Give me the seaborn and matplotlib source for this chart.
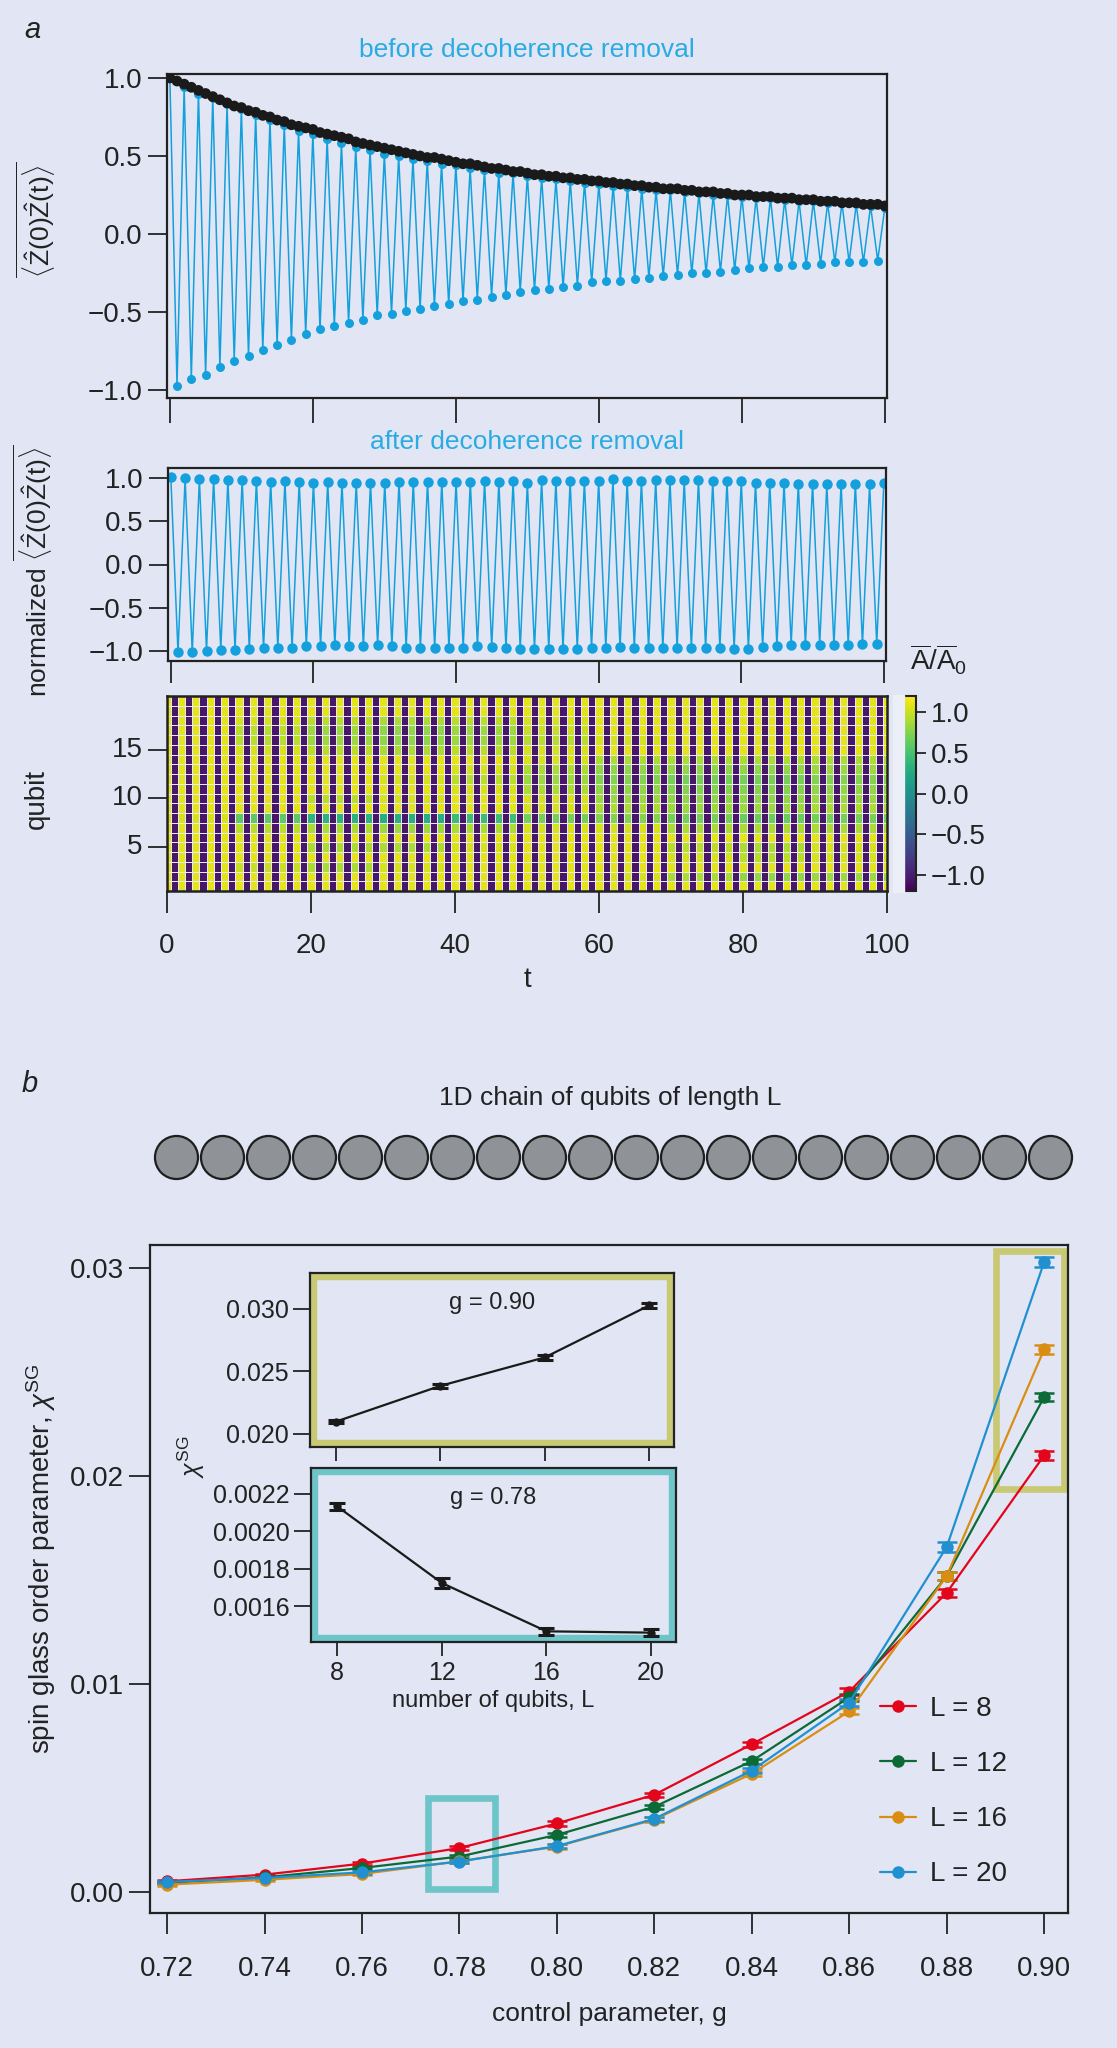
import numpy as np
import pandas as pd
import matplotlib
matplotlib.use("Agg")
import matplotlib.pyplot as plt
from matplotlib.patches import Rectangle
import seaborn as sns

# ---- panel a: autocorrelation data ------------------------------------------

t_steps = list(range(101))

# black upper envelope |<Z(0)Z(t)>| at every step
z_envelope = [
    1.00, 0.98, 0.96, 0.94, 0.92, 0.90, 0.88, 0.86, 0.84, 0.82,
    0.81, 0.79, 0.78, 0.76, 0.75, 0.73, 0.72, 0.70, 0.69, 0.68,
    0.67, 0.65, 0.64, 0.63, 0.62, 0.61, 0.59, 0.58, 0.57, 0.56,
    0.55, 0.54, 0.53, 0.52, 0.51, 0.50, 0.49, 0.49, 0.48, 0.47,
    0.46, 0.45, 0.45, 0.44, 0.43, 0.42, 0.42, 0.41, 0.40, 0.40,
    0.39, 0.38, 0.38, 0.37, 0.37, 0.36, 0.36, 0.35, 0.35, 0.34,
    0.34, 0.33, 0.33, 0.32, 0.32, 0.31, 0.31, 0.30, 0.30, 0.29,
    0.29, 0.29, 0.28, 0.28, 0.27, 0.27, 0.27, 0.26, 0.26, 0.25,
    0.25, 0.25, 0.24, 0.24, 0.24, 0.23, 0.23, 0.23, 0.22, 0.22,
    0.22, 0.21, 0.21, 0.21, 0.20, 0.20, 0.20, 0.19, 0.19, 0.19,
    0.18,
]

# blue raw signal, before decoherence removal
z_raw = [
    1.00, -0.97, 0.94, -0.93, 0.90, -0.90, 0.87, -0.85, 0.83, -0.81,
    0.80, -0.78, 0.76, -0.74, 0.73, -0.71, 0.70, -0.68, 0.66, -0.64,
    0.64, -0.61, 0.61, -0.59, 0.58, -0.57, 0.56, -0.55, 0.54, -0.52,
    0.51, -0.51, 0.50, -0.49, 0.48, -0.48, 0.47, -0.46, 0.45, -0.45,
    0.44, -0.43, 0.42, -0.42, 0.41, -0.40, 0.39, -0.39, 0.39, -0.37,
    0.37, -0.36, 0.36, -0.35, 0.35, -0.34, 0.34, -0.33, 0.33, -0.31,
    0.32, -0.30, 0.31, -0.30, 0.30, -0.29, 0.29, -0.28, 0.28, -0.27,
    0.28, -0.26, 0.27, -0.25, 0.26, -0.25, 0.25, -0.24, 0.25, -0.23,
    0.24, -0.22, 0.23, -0.21, 0.23, -0.21, 0.22, -0.20, 0.21, -0.20,
    0.21, -0.19, 0.20, -0.18, 0.20, -0.18, 0.19, -0.18, 0.18, -0.17,
    0.17,
]

# blue normalized signal, after decoherence removal
z_norm = [
    1.01, -1.02, 1.00, -1.02, 0.99, -1.00, 0.99, -0.99, 0.98, -0.99,
    0.98, -0.98, 0.97, -0.97, 0.96, -0.97, 0.97, -0.97, 0.96, -0.95,
    0.95, -0.95, 0.96, -0.94, 0.95, -0.95, 0.95, -0.95, 0.95, -0.94,
    0.95, -0.95, 0.96, -0.97, 0.96, -0.97, 0.96, -0.97, 0.96, -0.97,
    0.96, -0.97, 0.96, -0.95, 0.97, -0.96, 0.96, -0.97, 0.97, -0.98,
    0.95, -0.98, 0.98, -0.98, 0.97, -0.98, 0.97, -0.98, 0.97, -0.97,
    0.97, -0.97, 0.99, -0.96, 0.97, -0.97, 0.97, -0.97, 0.98, -0.97,
    0.98, -0.97, 0.98, -0.97, 0.98, -0.97, 0.97, -0.97, 0.97, -0.98,
    0.97, -0.98, 0.95, -0.96, 0.95, -0.95, 0.95, -0.93, 0.94, -0.94,
    0.94, -0.93, 0.93, -0.94, 0.94, -0.93, 0.94, -0.92, 0.93, -0.92,
    0.95,
]

# per-qubit amplitude of the positive half-periods, in blocks of 10 steps
qubits = list(range(1, 21))
site_amp = [
    [1.10, 1.10, 1.10, 1.10, 1.10, 1.10, 1.10, 1.10, 1.10, 1.10],  # q1
    [1.10, 1.10, 1.10, 1.10, 1.10, 1.10, 1.05, 0.90, 0.80, 0.85],  # q2
    [1.10, 1.00, 0.90, 1.05, 1.10, 1.10, 1.10, 1.10, 1.10, 1.10],  # q3
    [1.10, 1.10, 1.10, 1.10, 1.10, 1.10, 1.10, 1.05, 0.95, 1.05],  # q4
    [1.10, 1.10, 0.90, 0.90, 1.05, 1.10, 1.10, 0.95, 0.90, 1.05],  # q5
    [1.10, 1.10, 1.10, 1.10, 1.10, 1.10, 1.10, 1.10, 1.10, 1.10],  # q6
    [1.10, 0.95, 0.90, 0.85, 0.90, 1.05, 1.05, 0.90, 0.90, 0.90],  # q7
    [1.05, 0.60, 0.35, 0.30, 0.45, 0.70, 0.75, 0.70, 0.65, 0.70],  # q8
    [1.10, 1.10, 1.10, 1.10, 1.10, 1.05, 0.90, 0.85, 0.85, 0.90],  # q9
    [1.10, 1.10, 0.95, 1.05, 1.10, 1.05, 0.85, 0.80, 0.80, 0.85],  # q10
    [1.10, 1.10, 1.10, 1.10, 1.05, 0.90, 0.80, 0.75, 0.75, 0.80],  # q11
    [1.10, 1.10, 1.10, 1.05, 0.95, 0.85, 0.75, 0.70, 0.70, 0.75],  # q12
    [1.10, 1.10, 1.10, 1.10, 1.05, 0.90, 0.80, 0.80, 0.80, 0.85],  # q13
    [1.10, 1.10, 1.10, 1.10, 1.10, 1.05, 0.90, 0.90, 0.90, 0.90],  # q14
    [1.10, 1.05, 0.95, 0.90, 0.95, 1.05, 1.10, 1.10, 1.10, 1.10],  # q15
    [1.10, 0.95, 0.85, 0.80, 0.85, 0.95, 1.05, 1.10, 1.10, 1.10],  # q16
    [1.10, 0.95, 0.85, 0.80, 0.85, 1.00, 1.10, 1.10, 1.10, 1.10],  # q17
    [1.10, 1.05, 0.95, 0.90, 0.95, 1.05, 1.10, 1.10, 1.10, 1.10],  # q18
    [1.10, 1.10, 1.10, 1.10, 1.10, 1.10, 1.10, 1.10, 1.10, 1.10],  # q19
    [1.10, 1.10, 1.10, 1.10, 1.10, 1.10, 1.10, 1.10, 1.10, 1.10],  # q20
]
neg_level = -1.05

# ---- panel b: spin glass order parameter ------------------------------------

chain_sites = list(range(20))

g_values = [0.72, 0.74, 0.76, 0.78, 0.80, 0.82, 0.84, 0.86, 0.88, 0.90]
L_values = [8, 12, 16, 20]
chi_L8 = [0.00053, 0.00085, 0.00138, 0.00213, 0.00331, 0.00469, 0.00712, 0.00965, 0.0144, 0.0210]
chi_L12 = [0.00045, 0.00072, 0.00117, 0.00172, 0.00276, 0.00411, 0.00631, 0.00937, 0.0152, 0.0238]
chi_L16 = [0.00037, 0.00060, 0.00088, 0.00149, 0.00220, 0.00350, 0.00570, 0.00870, 0.0152, 0.0261]
chi_L20 = [0.00050, 0.00069, 0.00096, 0.00148, 0.00222, 0.00353, 0.00585, 0.00912, 0.0166, 0.0303]
err_L8 = [0.00005, 0.00005, 0.00006, 0.00008, 0.0001, 0.0001, 0.00012, 0.00015, 0.0002, 0.0002]
err_L12 = [0.00005, 0.00005, 0.00006, 0.00008, 0.0001, 0.0001, 0.00012, 0.00015, 0.0002, 0.0002]
err_L16 = [0.00005, 0.00005, 0.00006, 0.00008, 0.0001, 0.0001, 0.00012, 0.00015, 0.0002, 0.0002]
err_L20 = [0.00005, 0.00005, 0.00006, 0.00008, 0.0001, 0.0001, 0.00012, 0.00015, 0.00022, 0.00025]

inset_L = [8, 12, 16, 20]
chi_g090 = [0.02097, 0.02383, 0.02611, 0.03027]
err_g090 = [0.00012, 0.00017, 0.00017, 0.00017]
chi_g078 = [0.002132, 0.001723, 0.001465, 0.001458]
err_g078 = [0.00002, 0.000025, 0.00002, 0.00002]

# ---- style -------------------------------------------------------------------

BG = "#e2e6f4"
INK = "#222222"
BLUE = "#14a0dc"
TITLE_BLUE = "#2aabe2"
L_COLORS = ["#e3051b", "#0b6a35", "#d98e13", "#2090d0"]
OLIVE = "#c9c974"
TEAL = "#6ec5c9"

sns.set_style("ticks")
plt.rcParams["font.family"] = ["Liberation Sans", "DejaVu Sans"]
plt.rcParams.update({
    "mathtext.fontset": "custom",
    "mathtext.rm": "Liberation Sans",
    "mathtext.it": "Liberation Sans:italic",
    "mathtext.bf": "Liberation Sans:bold",
    "axes.facecolor": BG,
    "figure.facecolor": BG,
    "axes.edgecolor": INK,
    "axes.linewidth": 1.6,
    "text.color": INK,
    "axes.labelcolor": INK,
    "xtick.color": INK,
    "ytick.color": INK,
    "xtick.labelsize": 20,
    "ytick.labelsize": 20,
    "xtick.major.width": 1.3,
    "ytick.major.width": 1.3,
    "xtick.major.size": 15,
    "ytick.major.size": 14,
})

W, H = 1117, 2048


def box(left, top, right, bottom):
    return [left / W, 1 - bottom / H, (right - left) / W, (bottom - top) / H]


fig = plt.figure(figsize=(W / 100, H / 100), dpi=100)

zlabel = r"$\overline{\langle\hat{\mathrm{Z}}\mathrm{(0)}\hat{\mathrm{Z}}\mathrm{(t)}\rangle}$"
ytick_vals = [-1.0, -0.5, 0.0, 0.5, 1.0]
ytick_text = ["\u22121.0", "\u22120.5", "0.0", "0.5", "1.0"]
t_ticks = [0, 20, 40, 60, 80, 100]

# --- a, top: before decoherence removal
ax1 = fig.add_axes(box(167, 74, 887, 398))
sns.lineplot(x=t_steps, y=z_raw, ax=ax1, color=BLUE, linewidth=1.1,
             marker="o", markersize=6.5, markeredgewidth=0)
sns.scatterplot(x=t_steps, y=z_envelope, ax=ax1, color="#1a1a1a", s=60,
                edgecolor="none", zorder=4)
ax1.set_xlim(-0.4, 100.3)
ax1.set_ylim(-1.05, 1.025)
ax1.set_xticks(t_ticks)
ax1.set_xticklabels([])
ax1.set_yticks(ytick_vals)
ax1.set_yticklabels(ytick_text)
ax1.set_ylabel(zlabel, fontsize=19)
ax1.yaxis.set_label_coords(-0.152, 0.55)
ax1.tick_params(axis="x", length=18)

fig.text(24 / W, 1 - 30 / H, "a", fontsize=21, style="italic", va="center")
fig.text(527 / W, 1 - 50 / H, "before decoherence removal", color=TITLE_BLUE,
         fontsize=19, ha="center", va="center")

# --- a, middle: after decoherence removal
ax2 = fig.add_axes(box(168, 468, 886, 661))
sns.lineplot(x=t_steps, y=z_norm, ax=ax2, color=BLUE, linewidth=1.1,
             marker="o", markersize=7.5, markeredgewidth=0)
ax2.set_xlim(-0.4, 100.3)
ax2.set_ylim(-1.12, 1.12)
ax2.set_xticks(t_ticks)
ax2.set_xticklabels([])
ax2.set_yticks(ytick_vals)
ax2.set_yticklabels(ytick_text)
ax2.set_ylabel("normalized " + zlabel, fontsize=19)
ax2.yaxis.set_label_coords(-0.158, 0.47)
ax2.tick_params(axis="x", length=16)

fig.text(527 / W, 1 - 442 / H, "after decoherence removal", color=TITLE_BLUE,
         fontsize=19, ha="center", va="center")

# --- a, bottom: per-qubit heat map
heat = np.empty((len(qubits), len(t_steps)))
for i in range(len(qubits)):
    for t in t_steps:
        block = min(t // 10, 9)
        heat[i, t] = site_amp[i][block] if z_norm[t] > 0 else neg_level
heat_df = pd.DataFrame(heat[::-1], index=qubits[::-1], columns=t_steps)

fig.patches.append(Rectangle((893 / W, 1 - 892 / H), 11 / W, 197 / H,
                             transform=fig.transFigure, color="#eceef8", zorder=0))
ax3 = fig.add_axes(box(167, 696, 887, 891))
cax = fig.add_axes(box(904, 696, 916, 891))
sns.heatmap(heat_df, ax=ax3, cbar_ax=cax, cmap="viridis", vmin=-1.2, vmax=1.2,
            linewidths=0.6, linecolor="#e8e8f0",
            cbar_kws={"ticks": ytick_vals})
ax3.set_xlim(0.5, 100.5)
ax3.set_xticks([t + 0.5 for t in t_ticks])
ax3.set_xticklabels([str(t) for t in t_ticks], rotation=0)
ax3.set_yticks([20 - q + 0.5 for q in (5, 10, 15)])
ax3.set_yticklabels(["5", "10", "15"], rotation=0)
ax3.set_xlabel("t", fontsize=20, labelpad=6)
ax3.set_ylabel("qubit", fontsize=20)
ax3.yaxis.set_label_coords(-0.162, 0.47)
ax3.tick_params(axis="x", length=16, pad=14)
for sp in ax3.spines.values():
    sp.set_visible(True)
    sp.set_linewidth(1.8)
    sp.set_color(INK)
cax.set_yticklabels(ytick_text)
cax.tick_params(length=7, width=1.3, labelsize=20)
cbar = ax3.collections[0].colorbar
cbar.outline.set_visible(True)
cbar.outline.set_edgecolor(INK)
cbar.outline.set_linewidth(1.5)
fig.text(939 / W, 1 - 660 / H, r"$\overline{\mathrm{A}}/\overline{\mathrm{A}}_0$",
         fontsize=20, ha="center", va="center")

# --- b, chain of qubits
fig.text(22 / W, 1 - 1084 / H, "b", fontsize=21, style="italic", va="center")
fig.text(610 / W, 1 - 1098 / H, "1D chain of qubits of length L",
         fontsize=19, ha="center", va="center")
ax_chain = fig.add_axes(box(148.9, 1127, 1077.1, 1187))
sns.scatterplot(x=chain_sites, y=[0] * len(chain_sites), ax=ax_chain, s=960,
                color="#8f9297", edgecolor="#1e1e1e", linewidth=1.6)
ax_chain.set_xlim(-0.6, 19.6)
ax_chain.set_ylim(-1, 1)
ax_chain.axis("off")

# --- b, main panel
axm = fig.add_axes(box(150, 1245, 1068, 1913))
series = [chi_L8, chi_L12, chi_L16, chi_L20]
errors = [err_L8, err_L12, err_L16, err_L20]
for L, chi, err, col in zip(L_values, series, errors, L_COLORS):
    axm.errorbar(g_values, chi, yerr=err, fmt="none", ecolor=col,
                 elinewidth=1.8, capsize=7, capthick=1.8, zorder=3)
    sns.lineplot(x=g_values, y=chi, ax=axm, color=col, linewidth=1.6,
                 marker="o", markersize=9, markeredgewidth=0,
                 label=f"L = {L}", zorder=4)
axm.set_xlim(0.7165, 0.9049)
axm.set_ylim(-0.000995, 0.03112)
axm.set_xticks(g_values)
axm.set_xticklabels([f"{g:.2f}" for g in g_values])
axm.set_yticks([0.0, 0.01, 0.02, 0.03])
axm.set_yticklabels(["0.00", "0.01", "0.02", "0.03"])
axm.tick_params(axis="x", length=15, pad=16)
axm.tick_params(axis="y", length=15)
axm.set_xlabel("control parameter, g", fontsize=19, labelpad=14)
axm.set_ylabel(r"spin glass order parameter, $\chi^{\mathrm{SG}}$", fontsize=20)
axm.yaxis.set_label_coords(-0.1, 0.53)

axm.add_patch(Rectangle((0.8902, 0.01937), 0.9041 - 0.8902, 0.03082 - 0.01937,
                        fill=False, edgecolor=OLIVE, linewidth=4.8, zorder=2))
axm.add_patch(Rectangle((0.7736, 0.00015), 0.7873 - 0.7736, 0.00452 - 0.00015,
                        fill=False, edgecolor=TEAL, linewidth=4.8, zorder=2))

leg = axm.legend(loc="upper left", bbox_to_anchor=(0.795, 0.325), frameon=False,
                 fontsize=20, handlelength=1.3, handletextpad=0.5,
                 labelspacing=1.05, borderpad=0, borderaxespad=0)
for text in leg.get_texts():
    text.set_color(INK)

# --- b, insets
def inset(rect, chi, err, yticks, ylim, note, band_color, ticklabels):
    ax = fig.add_axes(rect)
    ax.errorbar(inset_L, chi, yerr=err, fmt="none", ecolor="#1a1a1a",
                elinewidth=1.6, capsize=6, capthick=2.2, zorder=3)
    sns.lineplot(x=inset_L, y=chi, ax=ax, color="#1a1a1a", linewidth=1.6,
                 marker="o", markersize=6, markeredgewidth=0, zorder=4)
    ax.set_xlim(7.0, 20.95)
    ax.set_ylim(*ylim)
    ax.set_xticks(inset_L)
    ax.set_yticks(yticks)
    ax.set_yticklabels(ticklabels)
    ax.tick_params(axis="x", length=10, labelsize=18)
    ax.tick_params(axis="y", length=12, labelsize=18)
    ax.add_patch(Rectangle((0.0105, 0.022), 0.979, 0.956, transform=ax.transAxes,
                           fill=False, edgecolor=band_color, linewidth=4.6, zorder=1))
    ax.text(0.5, 0.83, note, transform=ax.transAxes, ha="center", va="center",
            fontsize=17)
    return ax


ins1 = inset(box(310, 1273, 674, 1447), chi_g090, err_g090,
             [0.020, 0.025, 0.030], (0.01893, 0.03287), "g = 0.90", OLIVE,
             ["0.020", "0.025", "0.030"])
ins1.set_xticklabels([])
ins2 = inset(box(311, 1468, 676, 1642), chi_g078, err_g078,
             [0.0016, 0.0018, 0.0020, 0.0022], (0.001408, 0.002337), "g = 0.78",
             TEAL, ["0.0016", "0.0018", "0.0020", "0.0022"])
ins2.set_xticklabels([str(v) for v in inset_L])
ins2.set_xlabel("number of qubits, L", fontsize=17, labelpad=4)
fig.text(191 / W, 1 - 1457 / H, r"$\chi^{\mathrm{SG}}$", fontsize=18,
         rotation=90, ha="center", va="center")

fig.savefig("out.png", dpi=100, facecolor=BG)
